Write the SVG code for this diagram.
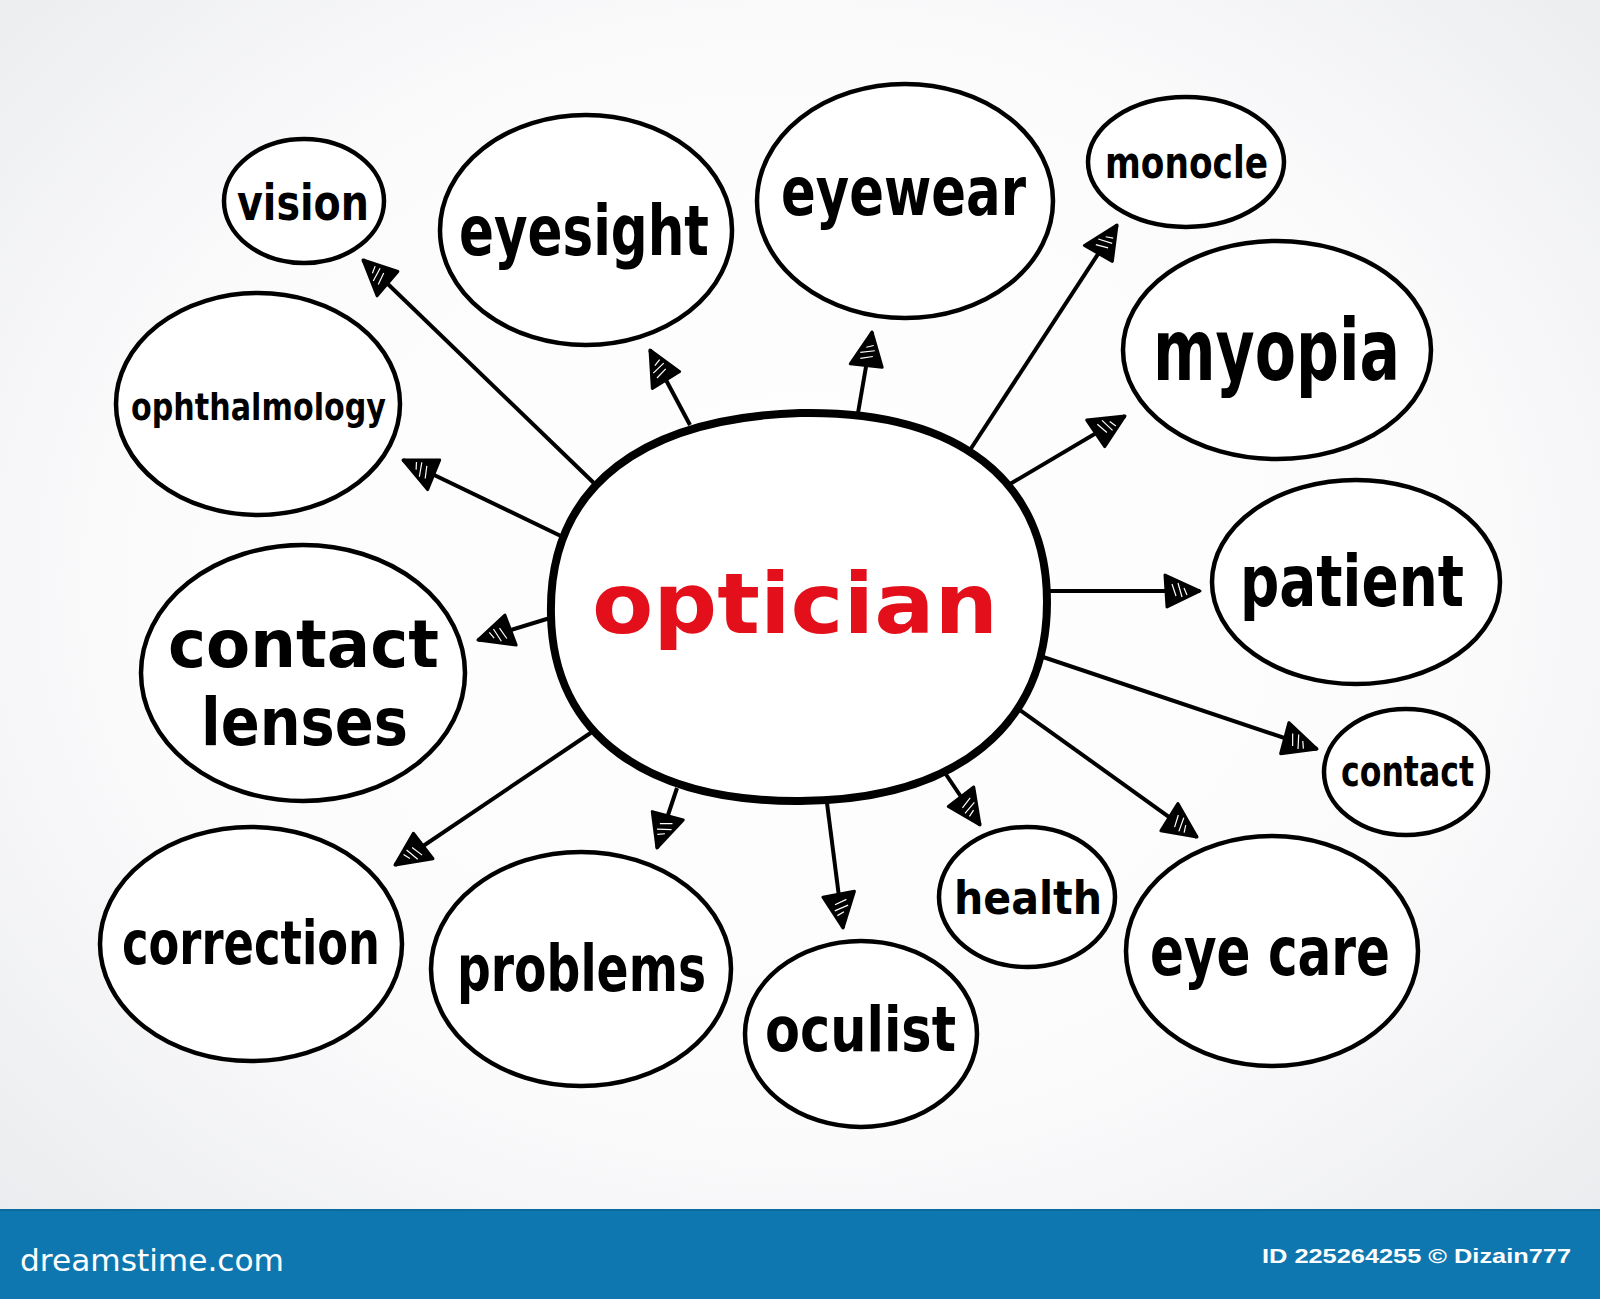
<svg xmlns="http://www.w3.org/2000/svg" width="1600" height="1299" viewBox="0 0 1600 1299">
<defs>
<radialGradient id="bg" cx="50%" cy="45%" r="75%">
<stop offset="0" stop-color="#ffffff"/>
<stop offset="0.55" stop-color="#fbfbfc"/>
<stop offset="1" stop-color="#e8e9ec"/>
</radialGradient>
<marker id="ah" viewBox="-40 -20 44 40" refX="0" refY="0" markerWidth="44" markerHeight="40" markerUnits="userSpaceOnUse" orient="auto">
<path d="M0,0 L-35,-16 L-33,16 Z" fill="#000" stroke="#000" stroke-width="3" stroke-linejoin="round"/>
<path d="M-28,-7 L-24,5 M-22,-8 L-18,6 M-16,-3 L-13,4" stroke="#fff" stroke-width="1.2" fill="none"/>
</marker>
<style>
.node{fill:#fff;stroke:#000;stroke-width:4.5}
.lbl{font-family:"DejaVu Sans","Liberation Sans",sans-serif;font-weight:bold;fill:#000}
.con{stroke:#000;stroke-width:4;fill:none;marker-end:url(#ah)}
</style>
</defs>
<rect x="0" y="0" width="1600" height="1299" fill="url(#bg)"/>

<g id="connectors">
<line class="con" x1="598" y1="487" x2="363" y2="260"/>
<line class="con" x1="565" y1="538" x2="403" y2="460"/>
<line class="con" x1="550" y1="618" x2="478" y2="640"/>
<line class="con" x1="690" y1="425" x2="650" y2="350"/>
<line class="con" x1="858" y1="413" x2="872" y2="332"/>
<line class="con" x1="970" y1="450" x2="1117" y2="225"/>
<line class="con" x1="1010" y1="484" x2="1125" y2="416"/>
<line class="con" x1="1046" y1="591" x2="1200" y2="591"/>
<line class="con" x1="1040" y1="656" x2="1317" y2="749"/>
<line class="con" x1="1020" y1="710" x2="1197" y2="837"/>
<line class="con" x1="943" y1="770" x2="980" y2="825"/>
<line class="con" x1="827" y1="803" x2="843" y2="928"/>
<line class="con" x1="677" y1="788" x2="657" y2="848"/>
<line class="con" x1="592" y1="732" x2="395" y2="865"/>
</g>

<g id="center">
<path d="M551,615 C548,482 648,418 800,413 C960,410 1047,482 1047,602 C1047,725 958,800 800,801 C648,802 553,736 551,615 Z" fill="#fff" stroke="#000" stroke-width="8"/>
<text class="lbl" x="592" y="633" font-size="84" style="fill:#e3101b" textLength="406" lengthAdjust="spacingAndGlyphs">optician</text>
</g>

<g id="n-vision">
<ellipse class="node" cx="304" cy="201" rx="80" ry="62"/>
<text class="lbl" x="237" y="220" font-size="50" textLength="132" lengthAdjust="spacingAndGlyphs">vision</text>
</g>
<g id="n-eyesight">
<ellipse class="node" cx="586" cy="230" rx="146" ry="115"/>
<text class="lbl" x="459" y="255" font-size="70" textLength="250" lengthAdjust="spacingAndGlyphs">eyesight</text>
</g>
<g id="n-eyewear">
<ellipse class="node" cx="905" cy="201" rx="148" ry="117"/>
<text class="lbl" x="781" y="215" font-size="68" textLength="245" lengthAdjust="spacingAndGlyphs">eyewear</text>
</g>
<g id="n-monocle">
<ellipse class="node" cx="1186" cy="162" rx="98" ry="65"/>
<text class="lbl" x="1105" y="178" font-size="45" textLength="163" lengthAdjust="spacingAndGlyphs">monocle</text>
</g>
<g id="n-myopia">
<ellipse class="node" cx="1277" cy="350" rx="154" ry="109"/>
<text class="lbl" x="1153" y="380" font-size="86" textLength="247" lengthAdjust="spacingAndGlyphs">myopia</text>
</g>
<g id="n-patient">
<ellipse class="node" cx="1356" cy="582" rx="144" ry="102"/>
<text class="lbl" x="1240" y="606" font-size="72" textLength="224" lengthAdjust="spacingAndGlyphs">patient</text>
</g>
<g id="n-contact">
<ellipse class="node" cx="1406" cy="772" rx="82" ry="63"/>
<text class="lbl" x="1341" y="786" font-size="42" textLength="133" lengthAdjust="spacingAndGlyphs">contact</text>
</g>
<g id="n-eyecare">
<ellipse class="node" cx="1272" cy="951" rx="146" ry="115"/>
<text class="lbl" x="1150" y="975" font-size="68" textLength="240" lengthAdjust="spacingAndGlyphs">eye care</text>
</g>
<g id="n-health">
<ellipse class="node" cx="1027" cy="897" rx="88" ry="70"/>
<text class="lbl" x="954" y="914" font-size="46" textLength="148" lengthAdjust="spacingAndGlyphs">health</text>
</g>
<g id="n-oculist">
<ellipse class="node" cx="861" cy="1034" rx="116" ry="93"/>
<text class="lbl" x="765" y="1051" font-size="62" textLength="191" lengthAdjust="spacingAndGlyphs">oculist</text>
</g>
<g id="n-problems">
<ellipse class="node" cx="581" cy="969" rx="150" ry="117"/>
<text class="lbl" x="457" y="991" font-size="64" textLength="249" lengthAdjust="spacingAndGlyphs">problems</text>
</g>
<g id="n-correction">
<ellipse class="node" cx="251" cy="944" rx="151" ry="117"/>
<text class="lbl" x="122" y="964" font-size="60" textLength="258" lengthAdjust="spacingAndGlyphs">correction</text>
</g>
<g id="n-contactlenses">
<ellipse class="node" cx="303" cy="673" rx="162" ry="128"/>
<text class="lbl" x="168" y="667" font-size="66" textLength="271" lengthAdjust="spacingAndGlyphs">contact</text>
<text class="lbl" x="201" y="745" font-size="66" textLength="207" lengthAdjust="spacingAndGlyphs">lenses</text>
</g>
<g id="n-ophthalmology">
<ellipse class="node" cx="258" cy="404" rx="142" ry="111"/>
<text class="lbl" x="131" y="420" font-size="38" textLength="255" lengthAdjust="spacingAndGlyphs">ophthalmology</text>
</g>

<g id="footer">
<rect x="0" y="1209" width="1600" height="90" fill="#0f77b0"/>
<rect x="0" y="1209" width="1600" height="2" fill="#0b6a9e"/>
<text x="20" y="1271" font-family="DejaVu Sans, sans-serif" font-size="30" fill="#fff" textLength="264" lengthAdjust="spacingAndGlyphs">dreamstime.com</text>
<text x="1262" y="1263" font-family="Liberation Sans, sans-serif" font-weight="bold" font-size="21" fill="#fff" textLength="309" lengthAdjust="spacingAndGlyphs">ID 225264255 © Dizain777</text>
</g>
</svg>
